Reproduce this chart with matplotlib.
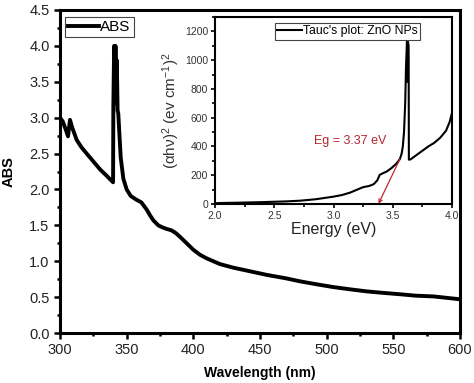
import matplotlib.pyplot as plt
from matplotlib.ticker import MultipleLocator

plt.rcParams['font.family'] = ['Liberation Sans', 'DejaVu Sans']
plt.rcParams['mathtext.fontset'] = 'custom'
plt.rcParams['mathtext.rm'] = 'Liberation Sans'
plt.rcParams['mathtext.it'] = 'Liberation Sans:italic'

# main spectrum (wavelength in nm vs absorbance)
wavelength = [300, 302, 304, 306, 307.5, 309, 312.5, 316, 320, 325, 330, 335, 339.8,
              340.0, 340.6, 341.2, 341.6, 342.2, 342.6, 343.2, 343.7, 345.5, 347.5, 350,
              353, 357, 361, 365, 367.5, 370, 373.7, 377, 380, 383.7, 387, 390, 395,
              400, 405, 410, 415, 420, 430, 440, 455, 470, 480, 492, 505, 517, 530,
              542, 555, 567, 580, 590, 600]
absorbance = [3.00, 2.95, 2.85, 2.74, 2.97, 2.87, 2.69, 2.59, 2.50, 2.39, 2.28, 2.19, 2.10,
              3.15, 4.00, 3.20, 4.00, 3.30, 3.80, 3.10, 3.06, 2.45, 2.15, 2.00,
              1.91, 1.86, 1.82, 1.72, 1.64, 1.57, 1.50, 1.47, 1.45, 1.43, 1.39, 1.34, 1.25,
              1.16, 1.09, 1.04, 1.00, 0.96, 0.91, 0.87, 0.81, 0.76, 0.72, 0.68, 0.64, 0.61, 0.58,
              0.56, 0.54, 0.52, 0.51, 0.49, 0.47]

# Tauc plot (energy in eV vs (alpha h nu)^2)
energy = [2.00, 2.05, 2.2, 2.4, 2.6, 2.72, 2.85, 3.0, 3.07, 3.14, 3.2, 3.25, 3.3, 3.34,
          3.37, 3.39, 3.42, 3.45, 3.49, 3.53, 3.56, 3.575, 3.585, 3.595, 3.605, 3.612,
          3.62, 3.624, 3.628, 3.634, 3.636, 3.65, 3.7, 3.75, 3.8, 3.85, 3.9, 3.95, 3.98, 4.0]
tauc = [5, 7, 9, 13, 18, 23, 33, 51, 62, 79, 100, 117, 125, 138,
        165, 203, 215, 226, 250, 280, 312, 350, 400, 500, 700, 960,
        1130, 850, 1130, 1100, 308, 310, 340, 370, 400, 425, 460, 510, 570, 634]

eg_label = 'Eg = 3.37 eV'

fig = plt.figure(figsize=(4.74, 3.83), dpi=100)

ax = fig.add_axes([0.1266, 0.1305, 0.8439, 0.8434])
ax.plot(wavelength, absorbance, color='black', lw=2.8, label='ABS')
ax.set_xlim(300, 600)
ax.set_ylim(0, 4.5)
ax.xaxis.set_major_locator(MultipleLocator(50))
ax.xaxis.set_minor_locator(MultipleLocator(25))
ax.yaxis.set_major_locator(MultipleLocator(0.5))
ax.yaxis.set_minor_locator(MultipleLocator(0.25))
ax.tick_params(which='both', direction='out', width=1.8, colors='black',
               labelcolor='#222222', labelsize=10.5)
ax.tick_params(which='major', length=4)
ax.tick_params(which='minor', length=2.5)
for s in ax.spines.values():
    s.set_linewidth(2.2)
ax.set_xlabel('Wavelength (nm)', fontsize=10, fontweight='bold', labelpad=6)
ax.set_ylabel('ABS', fontsize=10.5, fontweight='bold', labelpad=10)
leg = ax.legend(loc='upper left', bbox_to_anchor=(0.0125, 0.978), borderaxespad=0,
                fontsize=11, fancybox=False, edgecolor='#444444', framealpha=1,
                handlelength=2.0, handletextpad=0.1, borderpad=0.2)
leg.get_frame().set_linewidth(0.8)

# inset with the Tauc plot
ins = fig.add_axes([0.4536, 0.4674, 0.5, 0.4883])
ins.plot(energy, tauc, color='black', lw=1.5, label="Tauc's plot: ZnO NPs")
ins.set_xlim(2.0, 4.0)
ins.set_ylim(0, 1300)
ins.xaxis.set_major_locator(MultipleLocator(0.5))
ins.xaxis.set_minor_locator(MultipleLocator(0.25))
ins.yaxis.set_major_locator(MultipleLocator(200))
ins.yaxis.set_minor_locator(MultipleLocator(100))
ins.tick_params(which='both', direction='out', width=1.2, colors='black',
                labelcolor='#333333', labelsize=7.5, pad=2)
ins.tick_params(which='major', length=3)
ins.tick_params(which='minor', length=2)
for s in ins.spines.values():
    s.set_linewidth(1.5)
ins.set_xlabel('Energy (eV)', fontsize=11.5, color='#222222', labelpad=1)
ins.set_ylabel('(αhν)$^2$ (ev cm$^{-1}$)$^2$', fontsize=11, color='#333333', labelpad=2)
ileg = ins.legend(loc='upper right', bbox_to_anchor=(0.865, 0.968), borderaxespad=0,
                  fontsize=8.8, fancybox=False, edgecolor='#444444', framealpha=1,
                  handlelength=2.0, handletextpad=0.1, borderpad=0.2)
ileg.get_frame().set_linewidth(0.8)

ins.annotate('', xy=(3.38, 2), xytext=(3.56, 312),
             arrowprops=dict(arrowstyle='->', color='#c0262d', lw=0.9,
                             shrinkA=0, shrinkB=0, mutation_scale=6))
ins.text(3.14, 436, eg_label, color='#b5272f', fontsize=9, ha='center', va='center')

fig.savefig('out.png', dpi=100)
